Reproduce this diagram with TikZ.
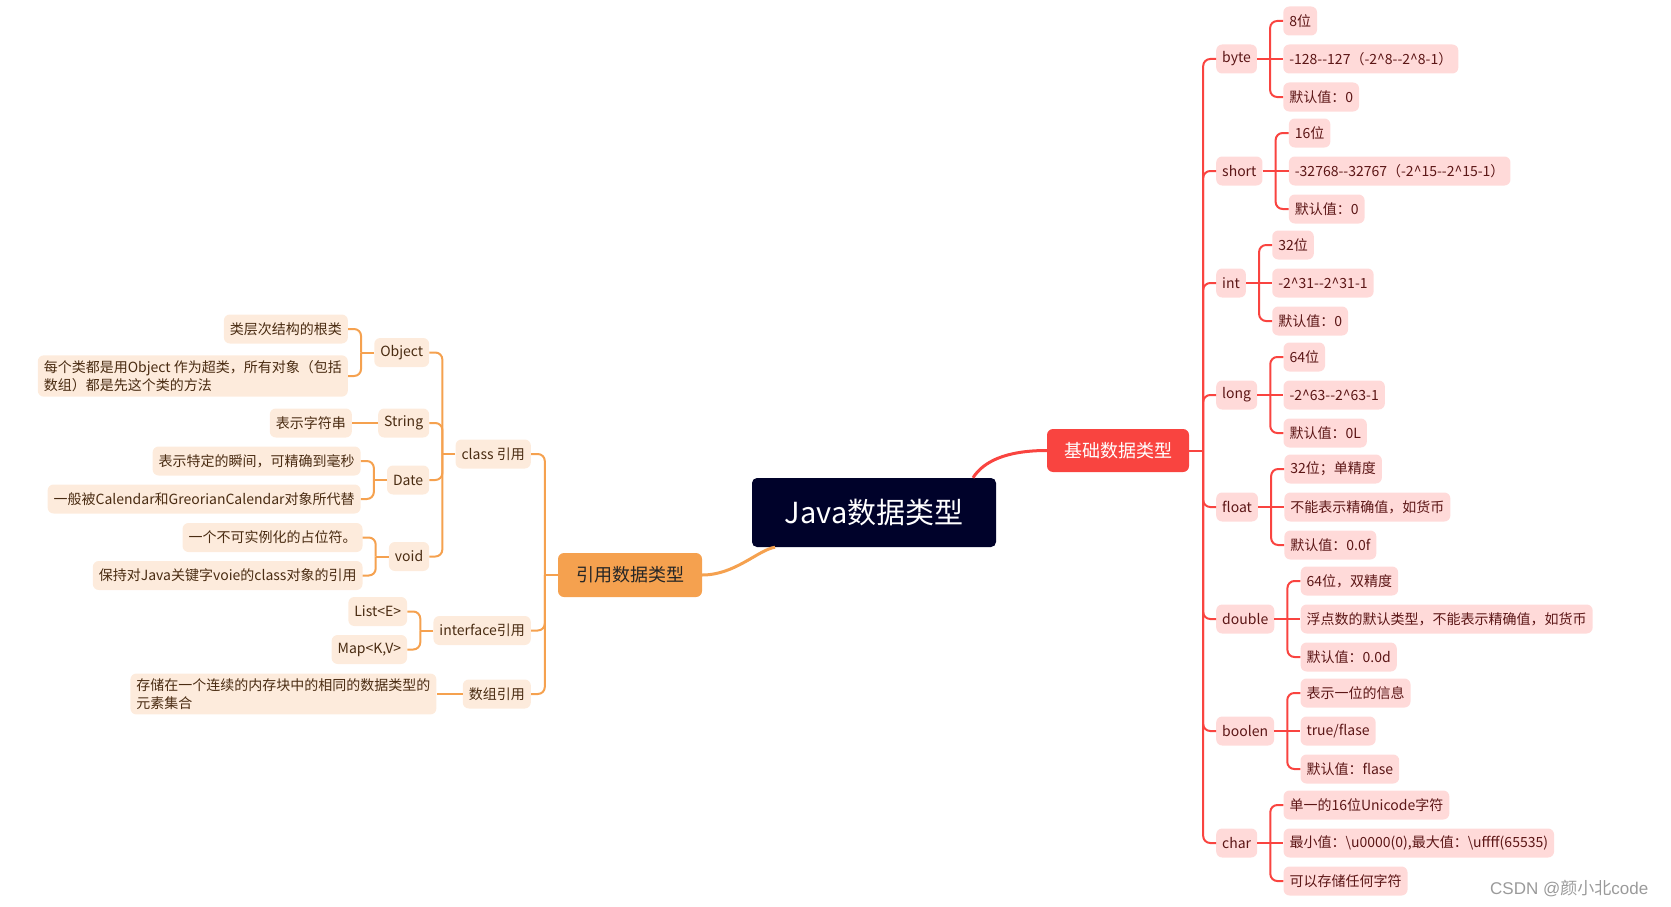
\documentclass[tikz,border=0pt]{standalone}
\usepackage{fontspec}
\newfontfamily\cjk{Noto Sans CJK SC}
\newfontfamily\wmlat{Liberation Sans}
\usetikzlibrary{calc}
\definecolor{navy}{HTML}{00022A}
\definecolor{redmain}{HTML}{F94440}
\definecolor{orangemain}{HTML}{F5A14F}
\definecolor{pinkfill}{HTML}{FFDAD9}
\definecolor{pinktext}{HTML}{5C1616}
\definecolor{peachfill}{HTML}{FDEBDC}
\definecolor{peachtext}{HTML}{4A2C12}
\definecolor{wmgray}{HTML}{9A9A9A}
\tikzset{
  basebox/.style={rounded corners=6pt, inner xsep=6pt, inner ysep=0pt, minimum height=29pt,
    font=\cjk\fontsize{14}{18}\selectfont},
  rnode/.style={basebox, fill=pinkfill, text=pinktext, anchor=west},
  lnode/.style={basebox, fill=peachfill, text=peachtext, anchor=east},
  twoline/.style={align=left, inner ysep=5pt},
  mainbox/.style={fill=navy, text=white, rounded corners=5pt, minimum width=244pt, minimum height=69pt,
    font=\cjk\fontsize{29}{34}\selectfont},
  redbox/.style={fill=redmain, text=white, rounded corners=6pt, minimum width=142pt, minimum height=43pt,
    font=\cjk\fontsize{18}{22}\selectfont},
  orangebox/.style={fill=orangemain, text=black!85, rounded corners=6pt, minimum width=144pt, minimum height=44pt,
    font=\cjk\fontsize{18}{22}\selectfont},
  rl/.style={draw=redmain, line width=2pt, rounded corners=7pt},
  ol/.style={draw=orangemain, line width=2pt, rounded corners=7pt},
}
\newcommand\rfan[4]{%
  \draw[rl] (#1.east) -- ++(13,0) coordinate (jj) -- (#3.west);
  \draw[rl] (jj) |- (#2.west);
  \draw[rl] (jj) |- (#4.west);}
\newcommand\lpair[3]{%
  \draw[ol] (#1.west) -- ++(-13,0) coordinate (jj);
  \draw[ol] (jj) |- (#2.east);
  \draw[ol] (jj) |- (#3.east);}
\newcommand\mycaret{\textasciicircum}
\begin{document}
\begin{tikzpicture}[x=1pt,y=-1pt]
\useasboundingbox (0,0) rectangle (1671,907);
% centre
\node[mainbox] (root) at (874,512.5) {Java数据类型};
\node[redbox] (basic) at (1118,450.5) {基础数据类型};
\node[orangebox] (ref) at (630,575) {引用数据类型};
\draw[redmain, line width=3pt] ([xshift=99pt]root.north) .. controls (983,462) and (1005,450.5) .. (basic.west);
\draw[orangemain, line width=3pt] (ref.east) .. controls (735,575) and (758,550) .. ([xshift=-99pt]root.south);

% ---------- right side ----------
\node[rnode] (byte) at (1216,59) {byte};
\node[rnode] (short) at (1216,171) {short};
\node[rnode] (int) at (1216,283) {int};
\node[rnode] (long) at (1216,395) {long};
\node[rnode] (float) at (1216,507) {float};
\node[rnode] (double) at (1216,619) {double};
\node[rnode] (boolen) at (1216,731) {boolen};
\node[rnode] (char) at (1216,843) {char};

\draw[rl] (basic.east) -- ++(14,0) coordinate (bR);
\foreach \c in {byte,short,int,long,float,double,boolen,char} {\draw[rl] (bR) |- (\c.west);}

\node[rnode] (byteA) at ($(byte.east)+(26,-38)$) {8位};
\node[rnode] (byteB) at ($(byte.east)+(26,0)$) {-128-{}-127（-2\mycaret 8-{}-2\mycaret 8-1）};
\node[rnode] (byteC) at ($(byte.east)+(26,38)$) {默认值：0};
\rfan{byte}{byteA}{byteB}{byteC}

\node[rnode] (shortA) at ($(short.east)+(26,-38)$) {16位};
\node[rnode] (shortB) at ($(short.east)+(26,0)$) {-32768-{}-32767（-2\mycaret 15-{}-2\mycaret 15-1）};
\node[rnode] (shortC) at ($(short.east)+(26,38)$) {默认值：0};
\rfan{short}{shortA}{shortB}{shortC}

\node[rnode] (intA) at ($(int.east)+(26,-38)$) {32位};
\node[rnode] (intB) at ($(int.east)+(26,0)$) {-2\mycaret 31-{}-2\mycaret 31-1};
\node[rnode] (intC) at ($(int.east)+(26,38)$) {默认值：0};
\rfan{int}{intA}{intB}{intC}

\node[rnode] (longA) at ($(long.east)+(26,-38)$) {64位};
\node[rnode] (longB) at ($(long.east)+(26,0)$) {-2\mycaret 63-{}-2\mycaret 63-1};
\node[rnode] (longC) at ($(long.east)+(26,38)$) {默认值：0L};
\rfan{long}{longA}{longB}{longC}

\node[rnode] (floatA) at ($(float.east)+(26,-38)$) {32位；单精度};
\node[rnode] (floatB) at ($(float.east)+(26,0)$) {不能表示精确值，如货币};
\node[rnode] (floatC) at ($(float.east)+(26,38)$) {默认值：0.0f};
\rfan{float}{floatA}{floatB}{floatC}

\node[rnode] (doubleA) at ($(double.east)+(26,-38)$) {64位，双精度};
\node[rnode] (doubleB) at ($(double.east)+(26,0)$) {浮点数的默认类型，不能表示精确值，如货币};
\node[rnode] (doubleC) at ($(double.east)+(26,38)$) {默认值：0.0d};
\rfan{double}{doubleA}{doubleB}{doubleC}

\node[rnode] (boolenA) at ($(boolen.east)+(26,-38)$) {表示一位的信息};
\node[rnode] (boolenB) at ($(boolen.east)+(26,0)$) {true/flase};
\node[rnode] (boolenC) at ($(boolen.east)+(26,38)$) {默认值：flase};
\rfan{boolen}{boolenA}{boolenB}{boolenC}

\node[rnode] (charA) at ($(char.east)+(26,-38)$) {单一的16位Unicode字符};
\node[rnode] (charB) at ($(char.east)+(26,0)$) {最小值：\textbackslash u0000(0),最大值：\textbackslash uffff(65535)};
\node[rnode] (charC) at ($(char.east)+(26,38)$) {可以存储任何字符};
\rfan{char}{charA}{charB}{charC}

% ---------- left side ----------
\node[lnode] (cls) at (531,454) {class 引用};
\node[lnode] (itf) at (531,630.5) {interface引用};
\node[lnode] (arr) at (531,694) {数组引用};
\draw[ol] (ref.west) -- ++(-13,0) coordinate (bL);
\foreach \c in {cls,itf,arr} {\draw[ol] (bL) |- (\c.east);}

\node[lnode] (obj) at ($(cls.west)+(-26,-101.5)$) {Object};
\node[lnode] (str) at ($(cls.west)+(-26,-31)$) {String};
\node[lnode] (date) at ($(cls.west)+(-26,26)$) {Date};
\node[lnode] (void) at ($(cls.west)+(-26,102.5)$) {void};
\draw[ol] (cls.west) -- ++(-13,0) coordinate (bC);
\foreach \c in {obj,str,date,void} {\draw[ol] (bC) |- (\c.east);}

\node[lnode] (objA) at ($(obj.west)+(-26,-23.5)$) {类层次结构的根类};
\node[lnode, twoline] (objB) at ($(obj.west)+(-26,23.5)$) {每个类都是用Object 作为超类，所有对象（包括\\数组）都是先这个类的方法};
\lpair{obj}{objA}{objB}

\node[lnode] (strA) at ($(str.west)+(-26,0)$) {表示字符串};
\draw[ol] (str.west) -- (strA.east);

\node[lnode] (dateA) at ($(date.west)+(-26,-19)$) {表示特定的瞬间，可精确到毫秒};
\node[lnode] (dateB) at ($(date.west)+(-26,19)$) {一般被Calendar和GreorianCalendar对象所代替};
\lpair{date}{dateA}{dateB}

\node[lnode] (voidA) at ($(void.west)+(-26,-19)$) {一个不可实例化的占位符。};
\node[lnode] (voidB) at ($(void.west)+(-26,19)$) {保持对Java关键字voie的class对象的引用};
\lpair{void}{voidA}{voidB}

\node[lnode] (itfA) at ($(itf.west)+(-26,-19)$) {List<E>};
\node[lnode] (itfB) at ($(itf.west)+(-26,19)$) {Map<K,V>};
\lpair{itf}{itfA}{itfB}

\node[lnode, twoline] (arrA) at ($(arr.west)+(-26,0)$) {存储在一个连续的内存块中的相同的数据类型的\\元素集合};
\draw[ol] (arr.west) -- (arrA.east);

% watermark
\node[anchor=west, text=wmgray, font=\fontsize{17}{20}\selectfont, inner sep=0pt] (wm) at (1490,889) {\wmlat CSDN @\cjk 颜小北\wmlat code};
\end{tikzpicture}
\end{document}
